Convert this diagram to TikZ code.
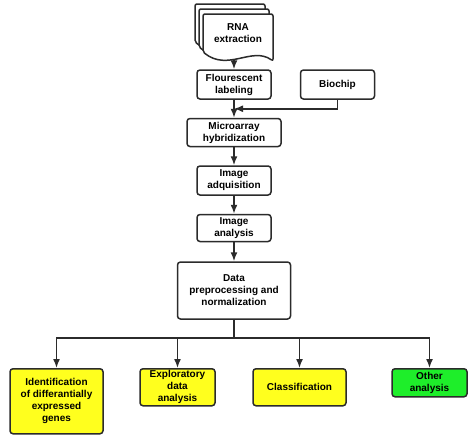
\documentclass[tikz,border=0pt]{standalone}
\usepackage{fontspec}
\setmainfont{Liberation Sans}
\usetikzlibrary{arrows.meta,positioning}
\definecolor{ink}{HTML}{2B2B2B}
\definecolor{lemon}{HTML}{FFFF1E}
\definecolor{lime}{HTML}{1EEE2A}
\tikzset{
 box/.style={draw=ink,rounded corners=3pt,line width=1.5pt,inner sep=0pt,align=center,fill=white,font=\fontsize{10}{12}\selectfont\bfseries},
 arrow/.style={-{Latex[length=9pt,width=7pt]},line width=1.5pt,draw=ink},
 line/.style={line width=1.5pt,draw=ink},
 page/.style={draw=ink,line width=1.5pt,fill=white,rounded corners=2pt}
}

\begin{document}
\begin{tikzpicture}[x=1pt,y=1pt]
\useasboundingbox (0,0) rectangle (474,-439);
% stacked documents
\draw[page] (195,-42) -- (195,-4) -- (265,-4) -- (265,-51) .. controls (244,-36) and (220,-62) .. (195,-42) -- cycle;
\draw[page] (199,-47) -- (199,-9) -- (269,-9) -- (269,-56) .. controls (248,-41) and (224,-67) .. (199,-47) -- cycle;
\draw[page] (203,-52) -- (203,-14) -- (273,-14) -- (273,-61) .. controls (252,-46) and (228,-72) .. (203,-52) -- cycle;
\node[box,draw=none,fill=none] (rna) at (238,-33) {RNA\\extraction};
\coordinate (rnabot) at (234,-59.5);
\node[box,minimum width=74pt,minimum height=29pt] (fluor) at (234,-84.5) {Flourescent\\labeling};
\node[box,minimum width=74pt,minimum height=29pt,right=28pt of fluor] (chip) {Biochip};
\node[box,minimum width=94pt,minimum height=28pt,below=18pt of fluor] (hyb) {Microarray\\hybridization};
\node[box,minimum width=74pt,minimum height=29pt,below=18pt of hyb] (acq) {Image\\adquisition};
\node[box,minimum width=74pt,minimum height=27pt,below=18pt of acq] (ana) {Image\\analysis};
\node[box,minimum width=113pt,minimum height=57pt,below=19pt of ana] (prep) {Data\\preprocessing and\\normalization};
\node[box,fill=lemon,minimum width=93pt,minimum height=65pt,anchor=north] (ident) at (56.5,-368) {Identification\\of differantially\\expressed\\genes};
\node[box,fill=lemon,minimum width=75pt,minimum height=37pt,anchor=north] (explo) at (177.5,-368) {Exploratory\\data\\analysis};
\node[box,fill=lemon,minimum width=93pt,minimum height=37pt,anchor=north] (classif) at (299.5,-368) {Classification};
\node[box,fill=lime,minimum width=75pt,minimum height=28pt,anchor=north] (other) at (429.5,-368) {Other\\analysis};
\coordinate (join) at ([yshift=-9pt]fluor.south);
\coordinate (bus) at ([yshift=-18pt]prep.south);
\draw[arrow] (rnabot)--(fluor);
\draw[line] (fluor)--(join);
\draw[arrow] (join)--(hyb);
\draw[arrow] (chip.south)|-(join);
\draw[arrow] (hyb)--(acq);
\draw[arrow] (acq)--(ana);
\draw[arrow] (ana)--(prep);
\draw[line] (prep)--(bus);
\draw[arrow] (bus)-|(ident.north);
\draw[arrow] (bus)-|(explo.north);
\draw[arrow] (bus)-|(classif.north);
\draw[arrow] (bus)-|(other.north);
\end{tikzpicture}
\end{document}
